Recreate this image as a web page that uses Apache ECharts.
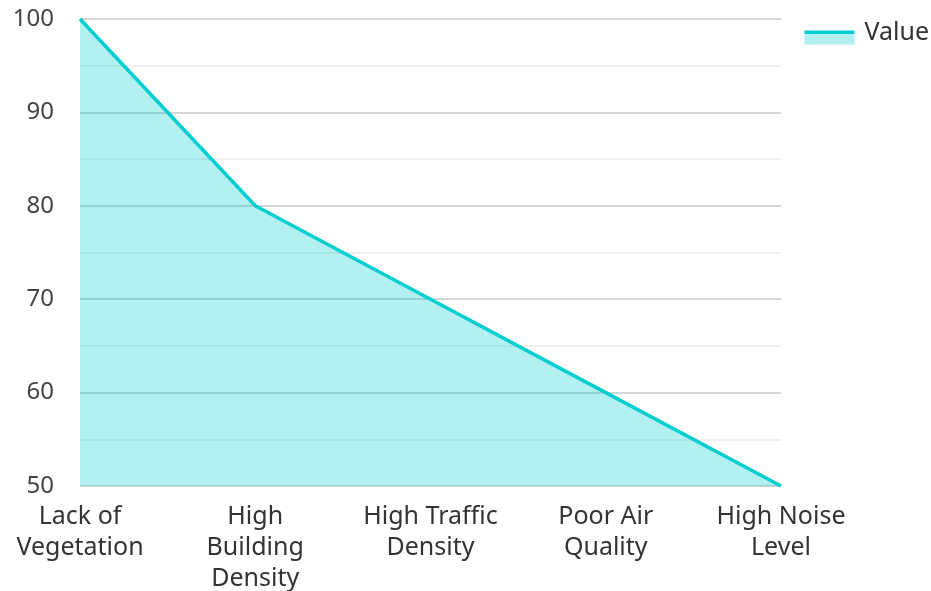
<!DOCTYPE html>
<html>
<head>
<meta charset="utf-8">
<script src="https://cdn.jsdelivr.net/npm/echarts@6/dist/echarts.min.js"></script>
<style>
  html, body { margin: 0; padding: 0; background: #fff; }
  #chart { width: 931px; height: 591px; }
</style>
</head>
<body>
<div id="chart"></div>
<script>
// Urban stress factors and their scores
const categories = [
  'Lack of\nVegetation',
  'High\nBuilding\nDensity',
  'High Traffic\nDensity',
  'Poor Air\nQuality',
  'High Noise\nLevel'
];
const values = [100, 80, 70, 60, 50];
const seriesName = 'Value';

const font = '"Noto Sans", "Open Sans", sans-serif';
const lineColor = '#00CED1';
const areaColor = 'rgba(0, 206, 209, 0.3)';
const swatchArea = '#b2eff0';
const chart = echarts.init(document.getElementById('chart'));

chart.setOption({
  animation: false,
  textStyle: { fontFamily: font },
  legend: {
    data: [{
      name: seriesName,
      icon: 'rect',
      // legend swatch: a line stroke on top of the filled area
      itemStyle: {
        color: new echarts.graphic.LinearGradient(0, 0, 0, 1, [
          { offset: 0, color: lineColor },
          { offset: 0.27, color: lineColor },
          { offset: 0.27, color: swatchArea },
          { offset: 1, color: swatchArea }
        ])
      }
    }],
    right: 2,
    top: 20,
    padding: 0,
    itemWidth: 50,
    itemHeight: 14,
    itemGap: 10,
    formatter: '{t|{name}}',
    textStyle: {
      fontSize: 25, color: '#333', fontFamily: font,
      rich: { t: { fontSize: 25, color: '#333', fontFamily: font, padding: [0, 0, 10, 5] } }
    }
  },
  grid: { left: 80, right: 150, top: 19, bottom: 105, outerBoundsMode: 'none', containLabel: false },
  xAxis: {
    type: 'category',
    data: categories,
    boundaryGap: false,
    axisLine: { show: false },
    axisTick: { show: false },
    axisLabel: {
      fontSize: 25,
      color: '#333',
      lineHeight: 31,
      margin: 15,
      interval: 0,
      fontFamily: font
    }
  },
  yAxis: {
    type: 'value',
    min: 50,
    max: 100,
    interval: 10,
    axisLine: { show: false },
    axisTick: { show: false },
    axisLabel: { fontSize: 24, color: '#444', margin: 26, fontFamily: font },
    splitLine: { lineStyle: { color: '#c8c8c8', width: 1.5 } },
    minorTick: { show: false, splitNumber: 2 },
    minorSplitLine: { show: true, lineStyle: { color: '#ebebeb', width: 1.5 } }
  },
  series: [{
    name: seriesName,
    type: 'line',
    data: values,
    symbol: 'none',
    lineStyle: { color: lineColor, width: 3.5 },
    itemStyle: { color: lineColor },
    areaStyle: { color: areaColor, opacity: 1 }
  }]
});
</script>
</body>
</html>
